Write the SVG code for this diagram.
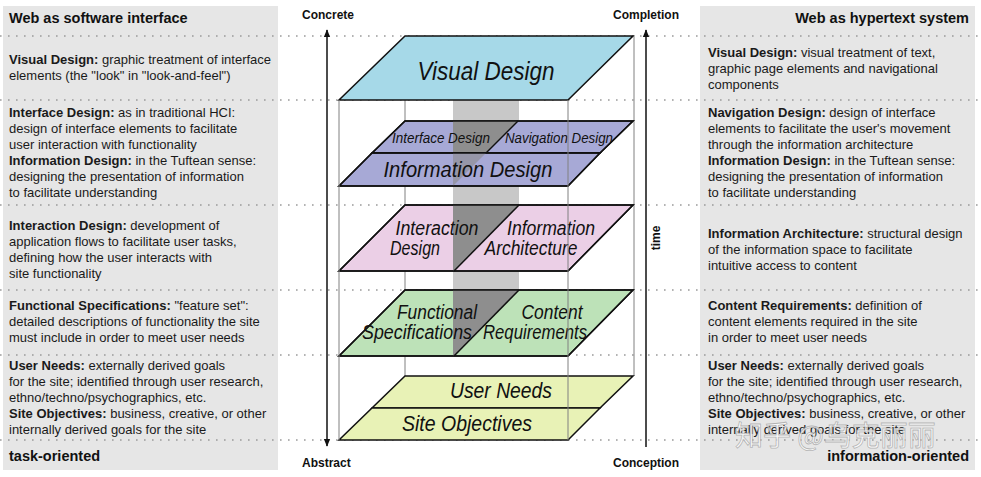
<svg xmlns="http://www.w3.org/2000/svg" width="981" height="477" viewBox="0 0 981 477">
<defs>
<style>
.panel{fill:#e6e6e6}
.dot{stroke:#9a9a9a;stroke-width:1.6;stroke-dasharray:1.6 6.4;fill:none}
.vl{stroke:#808080;stroke-width:1;fill:none}
.layer{stroke:#111;stroke-width:1.5;stroke-linejoin:miter}
.div{stroke:#111;stroke-width:1.5;fill:none}
.t{font-family:"Liberation Sans",Arial,sans-serif;font-size:13px;fill:#1a1a1a}
.b{font-weight:bold}
.h{font-family:"Liberation Sans",Arial,sans-serif;font-size:14.5px;font-weight:bold;fill:#111}
.ax{font-family:"Liberation Sans",Arial,sans-serif;font-size:12px;font-weight:bold;fill:#111}
.lt{font-family:"Liberation Sans",Arial,sans-serif;font-style:italic;fill:#111}
.arrow{stroke:#111;stroke-width:1.5;fill:none}
</style>
<marker id="ah" viewBox="0 0 10 10" refX="9" refY="5" markerWidth="8" markerHeight="8" orient="auto-start-reverse" markerUnits="userSpaceOnUse">
<path d="M0,1 L10,5 L0,9 Z" fill="#111"/>
</marker>
</defs>
<rect width="981" height="477" fill="#fff"/>
<g id="panel-left">
<rect class="panel" x="3" y="6" width="275" height="464"/>
</g>
<g id="panel-right">
<rect class="panel" x="700" y="6" width="275" height="464"/>
</g>
<g id="guides">
<line class="dot" x1="0" y1="36" x2="981" y2="36"/>
<line class="dot" x1="0" y1="100" x2="981" y2="100"/>
<line class="dot" x1="0" y1="205" x2="981" y2="205"/>
<line class="dot" x1="0" y1="290" x2="981" y2="290"/>
<line class="dot" x1="0" y1="355" x2="981" y2="355"/>
<line class="dot" x1="0" y1="440" x2="981" y2="440"/>
</g>
<g id="back-frame">
<line class="vl" x1="405" y1="100" x2="405" y2="376"/>
<line class="vl" x1="634" y1="36" x2="634" y2="376"/>
<rect x="453" y="100" width="66" height="190" fill="#c8c8c8"/>
</g>
<g id="layer-visual">
<polygon class="layer" points="405,36 633,36 568,100 339,100" fill="#a6d9e8"/>
<text class="lt" x="486" y="80" font-size="26" text-anchor="middle" textLength="137" lengthAdjust="spacingAndGlyphs">Visual Design</text>
</g>
<g id="layer-interface">
<polygon class="layer" points="405,121 633,121 600,153 372,153" fill="#a7a9d6"/>
<polygon points="453,121 518,121 486,153 453,153" fill="#8e8e8e"/>
<line class="div" x1="518" y1="121" x2="486" y2="153"/>
<polygon class="layer" points="405,121 633,121 600,153 372,153" fill="none"/>
<text class="lt" x="441" y="143" font-size="14" text-anchor="middle" textLength="98" lengthAdjust="spacingAndGlyphs">Interface Design</text>
<text class="lt" x="559" y="143" font-size="14" text-anchor="middle" textLength="108" lengthAdjust="spacingAndGlyphs">Navigation Design</text>
</g>
<g id="layer-information">
<polygon class="layer" points="372,153 600,153 568,186 339,186" fill="#a7a9d6"/>
<polygon points="453,153 486,153 453,186" fill="#9696a8"/>
<polygon class="layer" points="372,153 600,153 568,186 339,186" fill="none"/>
<text class="lt" x="468" y="177" font-size="22" text-anchor="middle" textLength="169" lengthAdjust="spacingAndGlyphs">Information Design</text>
</g>
<g id="layer-interaction">
<polygon class="layer" points="405,205 633,205 568,271 339,271" fill="#ebcfe6"/>
<polygon points="453,205 519,205 454,271 453,271" fill="#8e8e8e"/>
<line class="div" x1="519" y1="205" x2="454" y2="271"/>
<polygon class="layer" points="405,205 633,205 568,271 339,271" fill="none"/>
<text class="lt" x="437" y="235" font-size="20" text-anchor="middle" textLength="83" lengthAdjust="spacingAndGlyphs">Interaction</text>
<text class="lt" x="415" y="255" font-size="20" text-anchor="middle" textLength="50" lengthAdjust="spacingAndGlyphs">Design</text>
<text class="lt" x="551" y="235" font-size="20" text-anchor="middle" textLength="88" lengthAdjust="spacingAndGlyphs">Information</text>
<text class="lt" x="531" y="255" font-size="20" text-anchor="middle" textLength="93" lengthAdjust="spacingAndGlyphs">Architecture</text>
</g>
<g id="layer-functional">
<polygon class="layer" points="405,290 633,290 568,356 339,356" fill="#bde2b8"/>
<polygon points="453,290 519,290 454,356 453,356" fill="#8e8e8e"/>
<line class="div" x1="519" y1="290" x2="454" y2="356"/>
<polygon class="layer" points="405,290 633,290 568,356 339,356" fill="none"/>
<text class="lt" x="437" y="319" font-size="20" text-anchor="middle" textLength="80" lengthAdjust="spacingAndGlyphs">Functional</text>
<text class="lt" x="417" y="339" font-size="20" text-anchor="middle" textLength="110" lengthAdjust="spacingAndGlyphs">Specifications</text>
<text class="lt" x="552" y="319" font-size="20" text-anchor="middle" textLength="61" lengthAdjust="spacingAndGlyphs">Content</text>
<text class="lt" x="535" y="339" font-size="20" text-anchor="middle" textLength="104" lengthAdjust="spacingAndGlyphs">Requirements</text>
</g>
<g id="layer-userneeds">
<polygon class="layer" points="405,376 633,376 600,408 372,408" fill="#e8f2b6"/>
<text class="lt" x="501" y="398" font-size="22" text-anchor="middle" textLength="102" lengthAdjust="spacingAndGlyphs">User Needs</text>
</g>
<g id="layer-siteobjectives">
<polygon class="layer" points="372,408 600,408 568,440 339,440" fill="#e8f2b6"/>
<text class="lt" x="467" y="431" font-size="22" text-anchor="middle" textLength="130" lengthAdjust="spacingAndGlyphs">Site Objectives</text>
</g>
<g id="front-frame">
<line class="vl" x1="339" y1="100" x2="339" y2="440"/>
<line class="vl" x1="568" y1="100" x2="568" y2="440"/>
</g>
<g id="connectors">
<line class="arrow" x1="327" y1="30" x2="327" y2="446" marker-start="url(#ah)" marker-end="url(#ah)"/>
<line class="arrow" x1="646" y1="30" x2="646" y2="447" marker-start="url(#ah)"/>
</g>
<g id="axis-labels">
<text class="ax" x="302" y="19">Concrete</text>
<text class="ax" x="646" y="19" text-anchor="middle">Completion</text>
<text class="ax" x="302" y="467">Abstract</text>
<text class="ax" x="646" y="467" text-anchor="middle">Conception</text>
<text class="ax" x="0" y="0" text-anchor="middle" transform="translate(660,238) rotate(-90)">time</text>
</g>
<g id="left-text">
<text class="h" x="9" y="23">Web as software interface</text>
<text class="t" x="9" y="64"><tspan class="b">Visual Design:</tspan> graphic treatment of interface</text>
<text class="t" x="9" y="80">elements (the "look" in "look-and-feel")</text>
<text class="t" x="9" y="117"><tspan class="b">Interface Design:</tspan> as in traditional HCI:</text>
<text class="t" x="9" y="133">design of interface elements to facilitate</text>
<text class="t" x="9" y="149">user interaction with functionality</text>
<text class="t" x="9" y="165"><tspan class="b">Information Design:</tspan> in the Tuftean sense:</text>
<text class="t" x="9" y="181">designing the presentation of information</text>
<text class="t" x="9" y="197">to facilitate understanding</text>
<text class="t" x="9" y="230"><tspan class="b">Interaction Design:</tspan> development of</text>
<text class="t" x="9" y="246">application flows to facilitate user tasks,</text>
<text class="t" x="9" y="262">defining how the user interacts with</text>
<text class="t" x="9" y="278">site functionality</text>
<text class="t" x="9" y="310"><tspan class="b">Functional Specifications:</tspan> "feature set":</text>
<text class="t" x="9" y="326">detailed descriptions of functionality the site</text>
<text class="t" x="9" y="342">must include in order to meet user needs</text>
<text class="t" x="9" y="370"><tspan class="b">User Needs:</tspan> externally derived goals</text>
<text class="t" x="9" y="386">for the site; identified through user research,</text>
<text class="t" x="9" y="402">ethno/techno/psychographics, etc.</text>
<text class="t" x="9" y="418"><tspan class="b">Site Objectives:</tspan> business, creative, or other</text>
<text class="t" x="9" y="434">internally derived goals for the site</text>
<text class="h" x="9" y="461">task-oriented</text>
</g>
<g id="right-text">
<text class="h" x="969" y="23" text-anchor="end">Web as hypertext system</text>
<text class="t" x="708" y="57"><tspan class="b">Visual Design:</tspan> visual treatment of text,</text>
<text class="t" x="708" y="73">graphic page elements and navigational</text>
<text class="t" x="708" y="89">components</text>
<text class="t" x="708" y="117"><tspan class="b">Navigation Design:</tspan> design of interface</text>
<text class="t" x="708" y="133">elements to facilitate the user's movement</text>
<text class="t" x="708" y="149">through the information architecture</text>
<text class="t" x="708" y="165"><tspan class="b">Information Design:</tspan> in the Tuftean sense:</text>
<text class="t" x="708" y="181">designing the presentation of information</text>
<text class="t" x="708" y="197">to facilitate understanding</text>
<text class="t" x="708" y="238"><tspan class="b">Information Architecture:</tspan> structural design</text>
<text class="t" x="708" y="254">of the information space to facilitate</text>
<text class="t" x="708" y="270">intuitive access to content</text>
<text class="t" x="708" y="310"><tspan class="b">Content Requirements:</tspan> definition of</text>
<text class="t" x="708" y="326">content elements required in the site</text>
<text class="t" x="708" y="342">in order to meet user needs</text>
<text class="t" x="708" y="370"><tspan class="b">User Needs:</tspan> externally derived goals</text>
<text class="t" x="708" y="386">for the site; identified through user research,</text>
<text class="t" x="708" y="402">ethno/techno/psychographics, etc.</text>
<text class="t" x="708" y="418"><tspan class="b">Site Objectives:</tspan> business, creative, or other</text>
<text class="t" x="708" y="434">internally derived goals for the site</text>
<text class="h" x="969" y="461" text-anchor="end">information-oriented</text>
</g>
<g id="watermark">
<text x="735" y="446" font-family="'Noto Sans CJK SC',sans-serif" font-size="28" fill="#ffffff" fill-opacity="0.75" stroke="#8a8a8a" stroke-opacity="0.6" stroke-width="0.8">知乎 @乌克丽丽</text>
</g>
</svg>
